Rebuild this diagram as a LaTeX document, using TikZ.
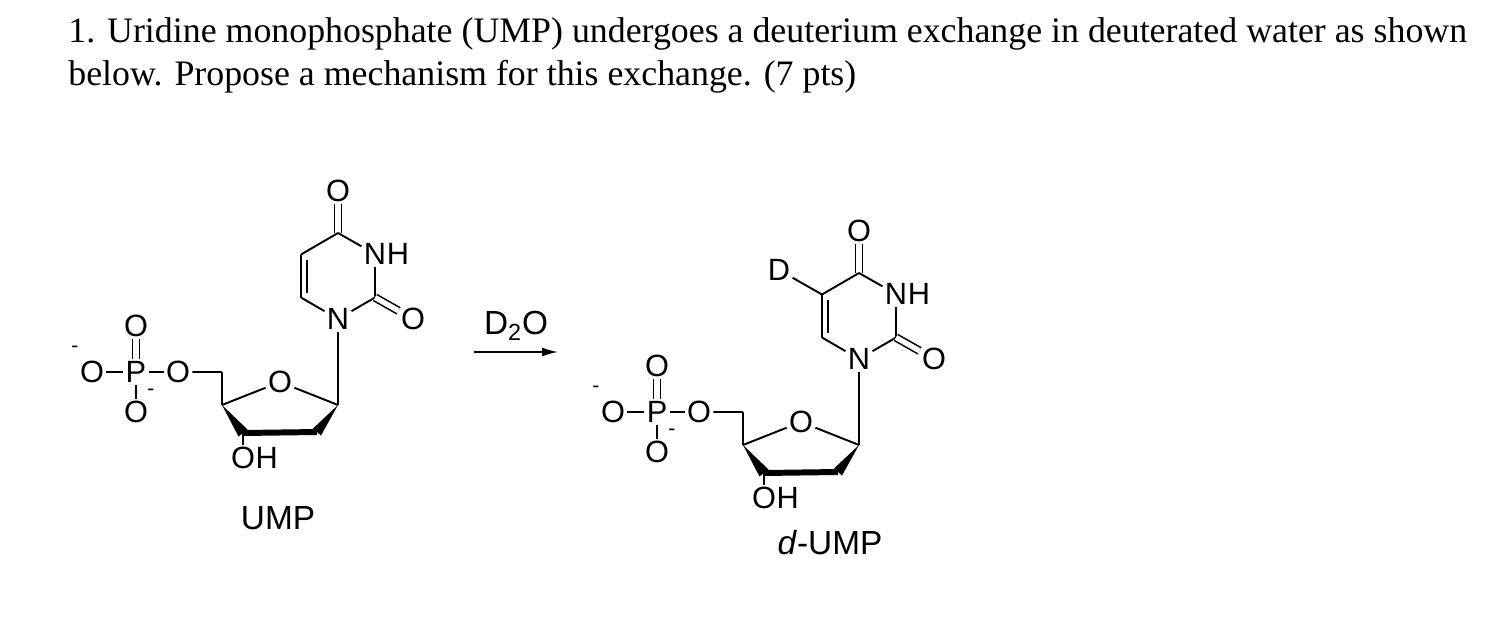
\documentclass[tikz,border=0pt]{standalone}
\usepackage{fontspec}
\setmainfont{Liberation Serif}
\setsansfont{Liberation Sans}
\usetikzlibrary{calc,arrows.meta}
\begin{document}
\begin{tikzpicture}[x=0.02cm,y=-0.02cm,
  atom/.style={font=\sffamily\fontsize{17.5}{17.5}\selectfont, inner sep=1.2pt},
  hh/.style={font=\sffamily\fontsize{17.5}{17.5}\selectfont, inner sep=0pt, anchor=base west, xshift=-1.2pt},
  chg/.style={font=\sffamily\fontsize{12}{12}\selectfont, inner sep=0pt},
  bond/.style={line width=1.1pt},
  dbl/.style={double, double distance=3pt, line width=0.9pt},
  lbl/.style={font=\sffamily\fontsize{19}{19}\selectfont}]
\useasboundingbox (0,0) rectangle (1498,622);
\node[anchor=base west, inner sep=0, font=\fontsize{20.4}{20.4}\selectfont] (t1) at (68,42) {1. Uridine monophosphate (UMP) undergoes a deuterium exchange in deuterated water as shown};
\node[anchor=base west, inner sep=0, font=\fontsize{20.4}{20.4}\selectfont] (t2) at (68,85) {below. Propose a mechanism for this exchange. (7 pts)};
\newcommand{\molec}{%
  \coordinate (C4) at (338,233);
  \coordinate (C2) at (375,297.5);
  \coordinate (C6) at (301,297.5);
  \coordinate (C5) at (301,254.5);
  \coordinate (C1p) at (338,405);
  \coordinate (C4p) at (222,405);
  \coordinate (C3p) at (243,433);
  \coordinate (C2p) at (317,432);
  \coordinate (C5p) at (222,372);
  \node[atom] (O4) at (338,191) {O};
  \node[atom] (N3) at (375,254) {N};
  \node[hh] (H3) at (N3.base east) {H};
  \node[atom] (N1) at (338,319) {N};
  \node[atom] (O2) at (413,319) {O};
  \node[atom] (O4p) at (280,382) {O};
  \node[atom] (O5p) at (178,372) {O};
  \node[atom] (P) at (136,372) {P};
  \node[atom] (Oa) at (92,372) {O};
  \node[atom] (Ob) at (136,326) {O};
  \node[atom] (Oc) at (136,412) {O};
  \node[atom] (O3p) at (243,458) {O};
  \node[hh] (H3p) at (O3p.base east) {H};
  \node[chg] (m1) at (75,349) {-};
  \node[chg] (m2) at (151,392) {-};
  \draw[dbl] (C4) -- (O4);
  \draw[bond] (C4) -- (N3) (N3) -- (C2) (C2) -- (N1) (N1) -- (C6) (C6) -- (C5) (C5) -- (C4);
  \draw[bond] ($(C5)+(6,5)$) -- ($(C6)+(6,-5)$);
  \draw[dbl] (C2) -- (O2);
  \draw[bond] (N1) -- (C1p) (C1p) -- (O4p) (O4p) -- (C4p) (C4p) -- (C5p) (C5p) -- (O5p);
  \draw[bond] (O5p) -- (P) (P) -- (Oa) (P) -- (Oc);
  \draw[dbl] (P) -- (Ob);
  \draw[bond] (C3p) -- (O3p);
  \fill (C4p) -- ($(C3p)+(4.5,-3.5)$) -- ($(C3p)+(-4.5,3.5)$) -- cycle;
  \fill (C1p) -- ($(C2p)+(4,3.5)$) -- ($(C2p)+(-4,-3.5)$) -- cycle;
  \draw[line width=3.4pt] (C3p) -- (C2p);
}
\begin{scope}[name prefix=a-]
  \molec
\end{scope}
\begin{scope}[shift={(521,40)}, name prefix=b-]
  \molec
  \node[atom] (D) at (258,230) {D};
  \draw[bond] (D) -- (C5);
\end{scope}
\node[lbl] (u1) at (278,518) {UMP};
\node[lbl] (u2) at (830,543) {\textit{d}-UMP};
\node[lbl] (d2o) at (516,326) {D\textsubscript{2}O};
\coordinate (ar1) at (474,352);
\coordinate (ar2) at (558,352);
\draw[line width=0.9pt, -{Latex[length=9pt,width=5pt]}] (ar1) -- (ar2);
\end{tikzpicture}
\end{document}
